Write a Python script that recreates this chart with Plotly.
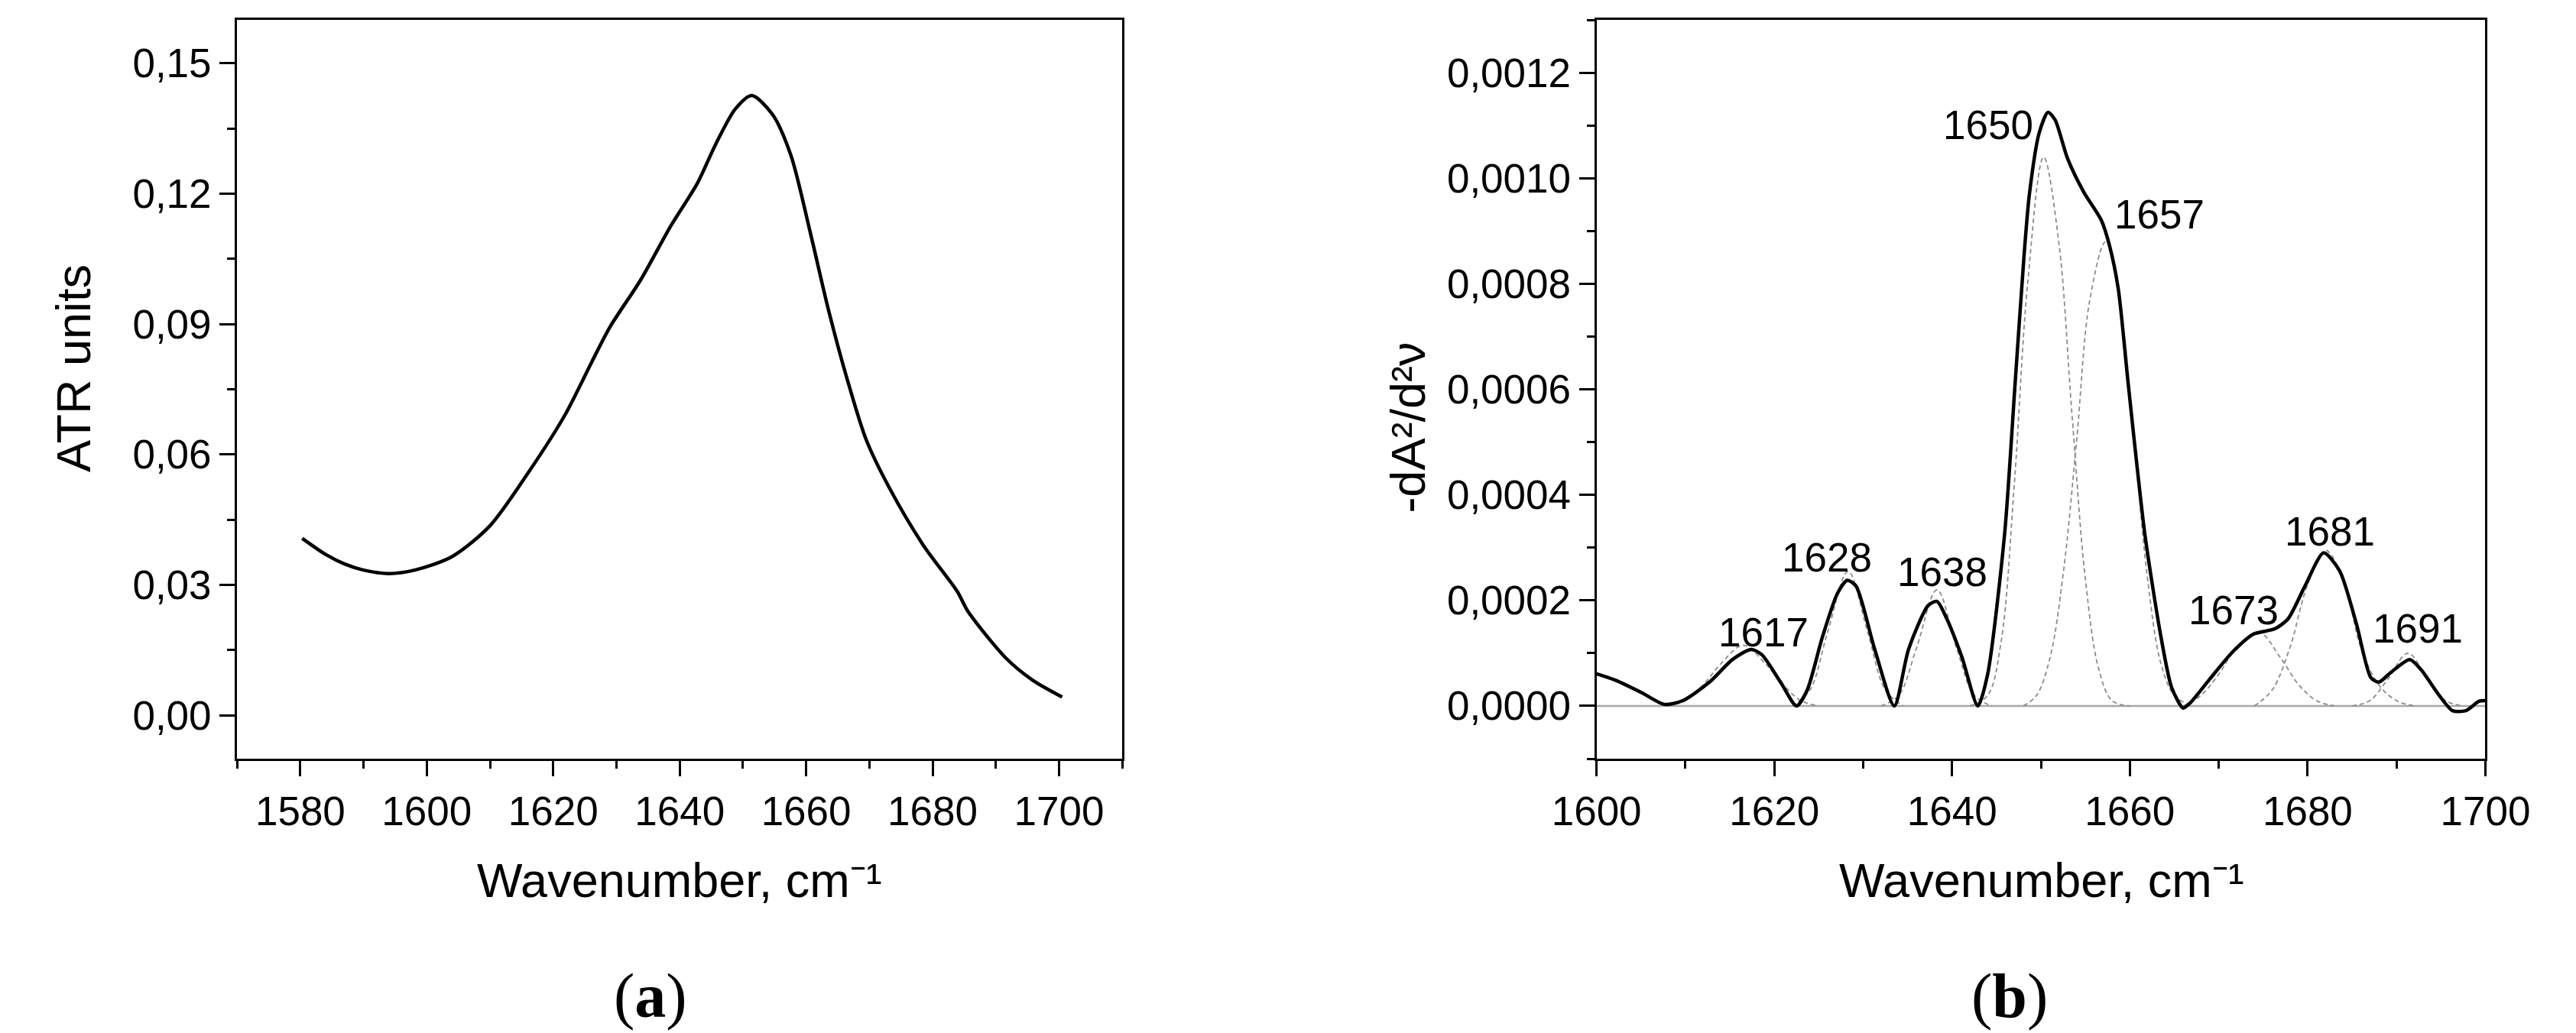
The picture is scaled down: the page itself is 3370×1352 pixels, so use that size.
import plotly.graph_objects as go

# (a) ATR absorbance spectrum
a_wavenumber = [1580.3, 1584, 1587, 1590, 1594, 1598.1, 1604.0, 1610.0, 1616.0, 1621.9,
                1626.1, 1629.0, 1633.8, 1638.6, 1642.8, 1645.7, 1648.8, 1651.4, 1654.7,
                1657.6, 1660.7, 1663.6, 1666.6, 1669.5, 1673.1, 1678.5, 1683.9, 1685.6,
                1691.5, 1695.8, 1700.5]
a_atr = [0.0407, 0.0370, 0.0348, 0.0334, 0.0326, 0.0334, 0.0365, 0.0436, 0.0557, 0.0692,
         0.0813, 0.0894, 0.1001, 0.1126, 0.1224, 0.1314, 0.1395, 0.1426, 0.1382,
         0.1288, 0.1108, 0.0929, 0.0768, 0.0634, 0.0525, 0.0392, 0.0285, 0.0239,
         0.0133, 0.0081, 0.0042]

# (b) second derivative spectrum
b_wavenumber = [1600, 1602.1, 1605.1, 1607.6, 1609.7, 1612.7, 1615.3, 1617.4, 1618.6, 1620.7,
                1622.5, 1623.7, 1625.4, 1627.1, 1628.2, 1629.2, 1631.3, 1633.5, 1635.1, 1637.3,
                1638.3, 1639.3, 1641.1, 1642.9, 1644.0, 1645.9, 1647.1, 1648.1, 1648.7, 1649.8,
                1650.8, 1651.6, 1653.0, 1654.8, 1656.8, 1657.7, 1658.7, 1659.8, 1661.7, 1663.5,
                1664.7, 1666.0, 1666.8, 1668.9, 1671.6, 1673.9, 1676.3, 1677.8, 1679.7, 1681.8,
                1683.6, 1685.5, 1687.1, 1688.0, 1689.4, 1691.5, 1692.8, 1694.8, 1696.3, 1697.8,
                1699.3, 1700]
b_deriv = [0.000061, 0.000049, 0.000025, 0.000003, 0.000010, 0.000045, 0.000088, 0.000107, 0.000097, 0.000045,
           0.000000, 0.000030, 0.000130, 0.000213, 0.000238, 0.000227, 0.000107, 0.000000, 0.000107, 0.000190,
           0.000198, 0.000169, 0.000093, 0.000000, 0.000060, 0.000324, 0.000613, 0.000854, 0.000970, 0.001086,
           0.001125, 0.001110, 0.001037, 0.000974, 0.000920, 0.000873, 0.000790, 0.000613, 0.000324, 0.000131,
           0.000035, -0.000004, 0.000006, 0.000049, 0.000103, 0.000136, 0.000146, 0.000165, 0.000227, 0.000290,
           0.000256, 0.000155, 0.000054, 0.000045, 0.000064, 0.000088, 0.000068, 0.000020, -0.000009, -0.000009,
           0.000009, 0.000010]

# fitted band components (dashed)
band_1617_x = [1608, 1610, 1612, 1614, 1616.5, 1619, 1621, 1623, 1625]
band_1617_y = [0, 0.00001, 0.00004, 0.00008, 0.000115, 0.00008, 0.00004, 0.00001, 0]
band_1628_x = [1622, 1624, 1626, 1628.3, 1630.5, 1632.5, 1634.5]
band_1628_y = [0, 0.00003, 0.00014, 0.000255, 0.00014, 0.00003, 0]
band_1638_x = [1632, 1634, 1636, 1638.3, 1640.5, 1642.5, 1644.5]
band_1638_y = [0, 0.00002, 0.00011, 0.00022, 0.00011, 0.00002, 0]
band_1650_x = [1642, 1644, 1645.5, 1647, 1648.5, 1650.3, 1652, 1653.5, 1655, 1656.5, 1658, 1660]
band_1650_y = [0, 0.00002, 0.00012, 0.00042, 0.00080, 0.00104, 0.00088, 0.00055, 0.00024, 0.00007, 0.00001, 0]
band_1657_x = [1648, 1649.5, 1651, 1652.5, 1654, 1655.5, 1657.3, 1659, 1660.5, 1662, 1663.5, 1665, 1667]
band_1657_y = [0, 0.00002, 0.00009, 0.00025, 0.00050, 0.00077, 0.00088, 0.00075, 0.00050, 0.00024, 0.00008, 0.00002, 0]
band_1673_x = [1666, 1668, 1670, 1672, 1674.5, 1677, 1679, 1681, 1683]
band_1673_y = [0, 0.00002, 0.00006, 0.00011, 0.00014, 0.00009, 0.00004, 0.00001, 0]
band_1681_x = [1674, 1676, 1678, 1680, 1682, 1684, 1686, 1688, 1690, 1692]
band_1681_y = [0, 0.00003, 0.00011, 0.00023, 0.000295, 0.00024, 0.00011, 0.00004, 0.00001, 0]
band_1691_x = [1685, 1687, 1689, 1691.3, 1693.5, 1695.5, 1697.5]
band_1691_y = [0, 0.00001, 0.00005, 0.0001, 0.00005, 0.00001, 0]

peak_labels = ["1617", "1628", "1638", "1650", "1657", "1673", "1681", "1691"]
peak_label_x = [1618.8, 1625.9, 1638.9, 1644.1, 1663.3, 1671.7, 1682.5, 1692.4]
peak_label_y = [0.000139, 0.000282, 0.000254, 0.0011016, 0.000931, 0.000182, 0.000331, 0.000147]

W, H = 3370, 1352
OFF = 8  # page body margin shifts the figure by this much
FONT = "Liberation Sans, Arial, sans-serif"


def px(x):
    return (x - OFF) / W


def py(y):
    return 1 - (y - OFF) / H


fig = go.Figure()

fig.add_trace(go.Scatter(
    x=a_wavenumber, y=a_atr, mode="lines",
    line=dict(color="black", width=4.5, shape="spline", smoothing=0.8),
    xaxis="x", yaxis="y", showlegend=False,
))

# zero baseline in (b)
fig.add_trace(go.Scatter(
    x=[1600, 1700], y=[0, 0], mode="lines",
    line=dict(color="#a8a8a8", width=2.5),
    xaxis="x2", yaxis="y2", showlegend=False,
))

bands = [
    (band_1617_x, band_1617_y), (band_1628_x, band_1628_y), (band_1638_x, band_1638_y),
    (band_1650_x, band_1650_y), (band_1657_x, band_1657_y), (band_1673_x, band_1673_y),
    (band_1681_x, band_1681_y), (band_1691_x, band_1691_y),
]
for bx, by in bands:
    fig.add_trace(go.Scatter(
        x=bx, y=by, mode="lines",
        line=dict(color="#8c8c8c", width=1.8, dash="6px,4px", shape="spline", smoothing=1.0),
        xaxis="x2", yaxis="y2", showlegend=False,
    ))

fig.add_trace(go.Scatter(
    x=b_wavenumber, y=b_deriv, mode="lines",
    line=dict(color="black", width=4.5, shape="spline", smoothing=0.7),
    xaxis="x2", yaxis="y2", showlegend=False,
))

axis_common = dict(
    showline=True, linecolor="black", linewidth=3, mirror=True,
    showgrid=False, zeroline=False,
    ticks="outside", ticklen=20, tickwidth=3, tickcolor="black",
    tickfont=dict(family=FONT, size=53, color="black"),
)
minor_x = dict(ticks="outside", ticklen=10, tickwidth=3, tickcolor="black", dtick=10)

fig.update_layout(
    width=W, height=H,
    margin=dict(l=0, r=0, t=0, b=0),
    paper_bgcolor="white", plot_bgcolor="white",
    separators=", ",
    xaxis=dict(domain=[px(260), px(1460)], range=[1570, 1710], dtick=20, tick0=0, tickformat="d",
               minor=minor_x, anchor="y", **axis_common),
    yaxis=dict(domain=[py(993), py(26)], range=[-0.01, 0.16], dtick=0.03, tick0=0,
               tickformat=".2f",
               minor=dict(ticks="outside", ticklen=10, tickwidth=3, tickcolor="black", dtick=0.015),
               anchor="x", **axis_common),
    xaxis2=dict(domain=[px(2103), px(3308)], range=[1600, 1700], dtick=20, tick0=0, tickformat="d",
                minor=minor_x, anchor="y2", **axis_common),
    yaxis2=dict(domain=[py(993), py(26)], range=[-0.0001, 0.0013], dtick=0.0002, tick0=0,
                tickformat=".4f",
                minor=dict(ticks="outside", ticklen=10, tickwidth=3, tickcolor="black", dtick=0.0001),
                anchor="x2", **axis_common),
)

for txt, lx, ly in zip(peak_labels, peak_label_x, peak_label_y):
    fig.add_annotation(x=lx, y=ly, xref="x2", yref="y2", text=txt, showarrow=False,
                       xanchor="center", yanchor="middle",
                       font=dict(family=FONT, size=53, color="black"))

title_font = dict(family=FONT, size=63, color="black")
fig.add_annotation(x=px(860), y=py(1152), xref="paper", yref="paper",
                   text="Wavenumber, cm⁻¹", showarrow=False,
                   xanchor="center", yanchor="middle", font=title_font)
fig.add_annotation(x=px(2707), y=py(1152), xref="paper", yref="paper",
                   text="Wavenumber, cm⁻¹", showarrow=False,
                   xanchor="center", yanchor="middle", font=title_font)
fig.add_annotation(x=px(38), y=py(482), xref="paper", yref="paper",
                   text="ATR units", textangle=-90, showarrow=False,
                   xanchor="center", yanchor="middle", font=title_font)
fig.add_annotation(x=px(1847), y=py(560), xref="paper", yref="paper",
                   text="-dA²/d²ν", textangle=-90, showarrow=False,
                   xanchor="center", yanchor="middle", font=title_font)

panel_font = dict(family="Liberation Serif, Times New Roman, serif", size=82, color="black")
fig.add_annotation(x=px(820), y=py(1303), xref="paper", yref="paper",
                   text="(<b>a</b>)", showarrow=False,
                   xanchor="center", yanchor="middle", font=panel_font)
fig.add_annotation(x=px(2663), y=py(1303), xref="paper", yref="paper",
                   text="(<b>b</b>)", showarrow=False,
                   xanchor="center", yanchor="middle", font=panel_font)

fig.write_html("out.html")
